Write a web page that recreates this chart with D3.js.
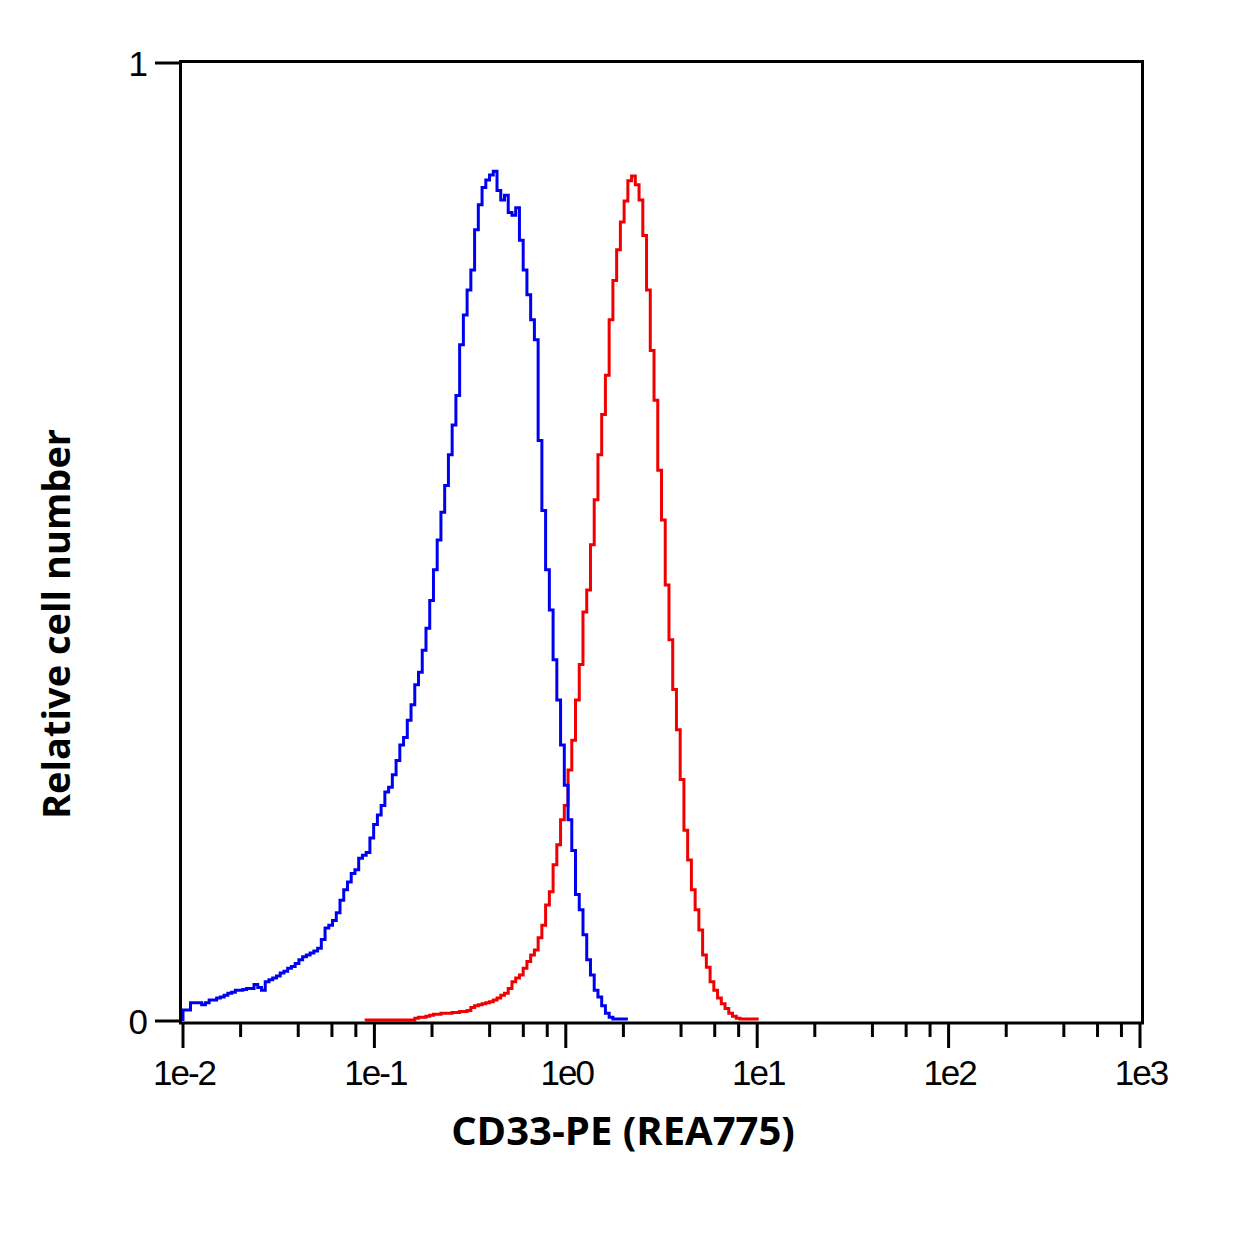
<!DOCTYPE html>
<html>
<head>
<meta charset="utf-8">
<script src="https://cdn.jsdelivr.net/npm/d3@7"></script>
<style>
  body { margin: 0; background: #fff; }
  svg { display: block; }
</style>
</head>
<body>
<div id="canvas"></div>
<script>
// histogram: 256 log-spaced channels from 1e-2 to 1e3, values in % of axis max
var nBins = 256;
var blueStart = 0;
var blueCounts = [
  1.15, 1.15, 1.9, 1.9, 1.9, 1.7, 1.9, 2.2, 2.2, 2.4,
  2.5, 2.7, 2.9, 3.0, 3.2, 3.2, 3.3, 3.4, 3.4, 3.8,
  3.5, 3.2, 4.1, 4.3, 4.5, 4.7, 5.0, 5.2, 5.5, 5.7,
  6.0, 6.4, 6.7, 6.9, 7.1, 7.3, 7.6, 8.5, 9.7, 10.0,
  10.5, 11.3, 12.6, 13.7, 14.5, 15.4, 15.8, 17.0, 17.3, 17.6,
  19.1, 20.5, 21.5, 22.5, 23.9, 24.4, 25.7, 27.2, 28.8, 29.6,
  31.4, 33.0, 35.1, 36.4, 38.7, 41.0, 43.9, 47.1, 50.2, 53.1,
  55.9, 59.1, 62.2, 65.3, 70.6, 73.7, 76.3, 78.4, 82.6, 85.2,
  87.0, 87.8, 88.3, 88.7, 86.7, 85.7, 86.2, 84.4, 84.1, 84.9,
  81.5, 78.4, 75.8, 73.2, 71.1, 60.6, 53.3, 47.1, 42.9, 37.7,
  33.5, 28.8, 24.6, 21.0, 17.8, 13.2, 11.6, 9.0, 6.4, 4.8,
  3.2, 2.5, 1.6, 0.8, 0.4, 0.2, 0.2, 0.2, 0.2
];
var redStart = 49;
var redCounts = [
  0.1, 0.1, 0.1, 0.1, 0.1, 0.1, 0.1, 0.1, 0.1, 0.1,
  0.1, 0.1, 0.1, 0.3, 0.4, 0.4, 0.5, 0.6, 0.7, 0.7,
  0.8, 0.8, 0.8, 0.9, 0.9, 1.0, 1.0, 1.1, 1.4, 1.6,
  1.7, 1.8, 1.9, 2.0, 2.2, 2.4, 2.7, 2.9, 3.4, 4.1,
  4.5, 4.8, 5.5, 6.2, 6.9, 7.4, 8.7, 10.0, 12.1, 13.5,
  16.3, 18.4, 21.0, 22.5, 26.2, 29.3, 33.5, 37.2, 42.7, 45.0,
  49.7, 54.4, 59.1, 63.3, 67.4, 73.2, 77.3, 80.5, 83.4, 85.6,
  87.7, 88.2, 87.3, 85.7, 82.0, 76.3, 70.0, 64.8, 57.5, 52.3,
  45.5, 39.8, 34.6, 30.4, 25.2, 19.9, 16.8, 13.7, 11.6, 9.5,
  6.9, 5.6, 4.1, 3.2, 2.4, 1.8, 1.3, 0.8, 0.5, 0.3,
  0.2, 0.2, 0.2, 0.2, 0.2
];
var xTicksMajor = [1e-2, 1e-1, 1e0, 1e1, 1e2, 1e3];
var xTickLabels = ['1e-2', '1e-1', '1e0', '1e1', '1e2', '1e3'];
var yTicks = [0, 100];
var yTickLabels = ['0', '1'];

var W = 1250, H = 1250;
var svg = d3.select('#canvas').append('svg')
  .attr('width', W).attr('height', H);

svg.append('rect').attr('width', W).attr('height', H).style('fill', '#fff');

var x = d3.scaleLog().domain([1e-2, 1e3]).range([183, 1140]);
var y = d3.scaleLinear().domain([0, 100]).range([1021, 63]);

// channel edge in data units
function edge(i) { return Math.pow(10, -2 + 5 * i / nBins); }

function stepPoints(start, counts) {
  var pts = [[edge(start), 0]];
  counts.forEach(function(c, k) { pts.push([edge(start + k), c]); });
  pts.push([edge(start + counts.length), counts[counts.length - 1]]);
  return pts;
}

var line = d3.line()
  .x(function(d) { return x(d[0]); })
  .y(function(d) { return y(d[1]); })
  .curve(d3.curveStepAfter);

svg.append('path')
  .attr('d', line(stepPoints(redStart, redCounts)))
  .style('fill', 'none').style('stroke', '#f00000').style('stroke-width', 3);

svg.append('path')
  .attr('d', line(stepPoints(blueStart, blueCounts)))
  .style('fill', 'none').style('stroke', '#0000f0').style('stroke-width', 3);

// frame
svg.append('rect')
  .attr('x', 180.5).attr('y', 61.5).attr('width', 962).attr('height', 961.5)
  .style('fill', 'none').style('stroke', '#000').style('stroke-width', 3);

// x ticks
var minor = [];
for (var e = -2; e < 3; e++) {
  [2, 4, 6, 8].forEach(function(m) { minor.push(m * Math.pow(10, e)); });
}
svg.selectAll('.minor').data(minor).enter().append('line')
  .attr('x1', function(d) { return x(d); }).attr('x2', function(d) { return x(d); })
  .attr('y1', 1023).attr('y2', 1037)
  .style('stroke', '#000').style('stroke-width', 3);
svg.selectAll('.major').data(xTicksMajor).enter().append('line')
  .attr('x1', function(d) { return x(d); }).attr('x2', function(d) { return x(d); })
  .attr('y1', 1023).attr('y2', 1048)
  .style('stroke', '#000').style('stroke-width', 3);

var tickFont = '"Liberation Sans", Arial, sans-serif';
svg.selectAll('.xlab').data(xTicksMajor).enter().append('text')
  .attr('x', function(d) { return x(d) + 1; })
  .attr('y', 1085)
  .attr('text-anchor', 'middle')
  .style('font-family', tickFont).style('font-size', '35px')
  .style('letter-spacing', '-2px')
  .style('fill', '#000')
  .text(function(d, i) { return xTickLabels[i]; });

// y ticks
svg.selectAll('.ytick').data(yTicks).enter().append('line')
  .attr('x1', 155).attr('x2', 181)
  .attr('y1', function(d) { return y(d); }).attr('y2', function(d) { return y(d); })
  .style('stroke', '#000').style('stroke-width', 3);
svg.selectAll('.ylab').data(yTicks).enter().append('text')
  .attr('x', 148)
  .attr('y', function(d) { return y(d) + 13; })
  .attr('text-anchor', 'end')
  .style('font-family', tickFont).style('font-size', '35px')
  .style('fill', '#000')
  .text(function(d, i) { return yTickLabels[i]; });

// axis titles
var titleFont = '"Open Sans", "Noto Sans", sans-serif';
svg.append('text')
  .attr('x', 623).attr('y', 1145)
  .attr('text-anchor', 'middle')
  .style('font-family', titleFont).style('font-weight', 'bold').style('font-size', '40px')
  .style('fill', '#000')
  .text('CD33-PE (REA775)');

svg.append('text')
  .attr('transform', 'translate(70,624) rotate(-90)')
  .attr('text-anchor', 'middle')
  .style('font-family', titleFont).style('font-weight', 'bold').style('font-size', '38px')
  .style('fill', '#000')
  .text('Relative cell number');
</script>
</body>
</html>
